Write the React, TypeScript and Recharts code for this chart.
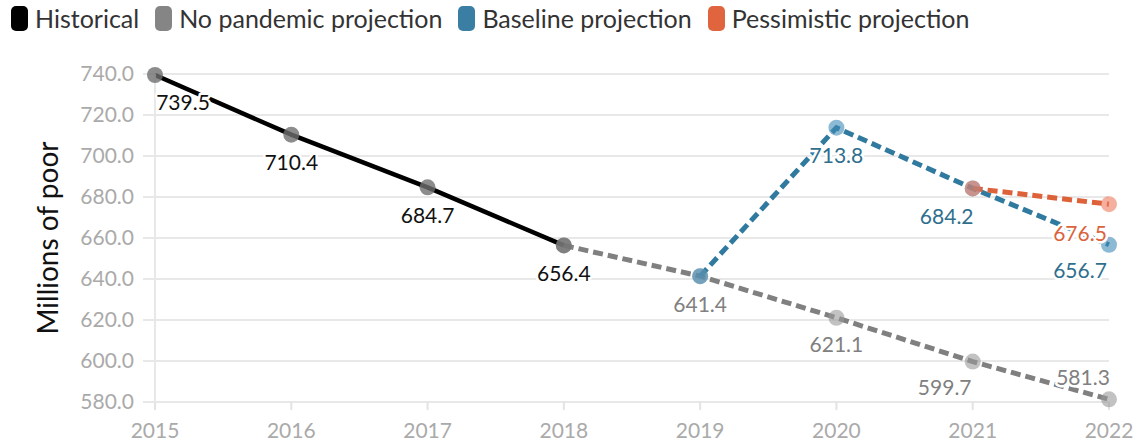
import React from 'react';
import { ComposedChart, Line, XAxis, YAxis, CartesianGrid, LabelList } from 'recharts';

const years = [2015, 2016, 2017, 2018, 2019, 2020, 2021, 2022];
const historical = [739.5, 710.4, 684.7, 656.4, null, null, null, null];
const noPandemic = [null, null, null, 656.4, 641.4, 621.1, 599.7, 581.3];
const baseline = [null, null, null, null, 641.4, 713.8, 684.2, 656.7];
const pessimistic = [null, null, null, null, null, null, 684.2, 676.5];
const yTicks = [580, 600, 620, 640, 660, 680, 700, 720, 740];

const data = years.map((year, i) => ({
  year,
  hist: historical[i],
  nopan: noPandemic[i],
  base: baseline[i],
  pess: pessimistic[i],
}));

const FONT = 'Lato, "Open Sans", sans-serif';

// label offsets (style), keyed by series then year; missing => no label
const labelOffsets: Record<string, Record<number, [number, number]>> = {
  hist: { 2015: [28, 26], 2016: [0, 27], 2017: [0, 27], 2018: [0, 27] },
  nopan: { 2019: [0, 27], 2020: [0, 26], 2021: [-28, 25], 2022: [-26, -23] },
  base: { 2020: [0, 27], 2021: [-26, 27], 2022: [-29, 25] },
  pess: { 2022: [-29, 28] },
};

const labelColors: Record<string, string> = {
  hist: '#111',
  nopan: '#808080',
  base: '#2f6f8e',
  pess: '#d9633d',
};

const makeLabel = (key: string) => (props: any) => {
  const { x, y, value, index } = props;
  if (value == null) return null;
  const yr = years[index];
  const off = labelOffsets[key][yr];
  if (!off) return null;
  return (
    <text
      x={x + off[0]}
      y={y + off[1]}
      textAnchor="middle"
      dominantBaseline="central"
      fontFamily={FONT}
      fontSize={21}
      fill={labelColors[key]}
      stroke="#fff"
      strokeWidth={5}
      paintOrder="stroke"
      strokeLinejoin="round"
    >
      {Number(value).toFixed(1)}
    </text>
  );
};

const makeDot = (fill: string, opacity: number) => (props: any) => {
  const { cx, cy, value, index } = props;
  if (value == null || cx == null || cy == null) return <g key={index} />;
  return <circle key={index} cx={cx} cy={cy} r={8} fill={fill} fillOpacity={opacity} />;
};

const legendItems = [
  { label: 'Historical', color: '#000' },
  { label: 'No pandemic projection', color: '#858585' },
  { label: 'Baseline projection', color: '#3a7fa3' },
  { label: 'Pessimistic projection', color: '#e0653f' },
];

export default function App() {
  return (
    <div style={{ position: 'absolute', left: 0, top: 0, width: 1140, height: 447, background: '#fff' }}>
      <div
        style={{
          position: 'absolute',
          left: 11,
          top: 6,
          display: 'flex',
          alignItems: 'center',
          fontFamily: FONT,
          fontSize: 25,
          color: '#333',
        }}
      >
        {legendItems.map((it) => (
          <div key={it.label} style={{ display: 'flex', alignItems: 'center', marginRight: 16 }}>
            <div style={{ width: 17, height: 25, borderRadius: 5, background: it.color, marginRight: 7 }} />
            <span style={{ lineHeight: '25px' }}>{it.label}</span>
          </div>
        ))}
      </div>
      <ComposedChart
        width={1140}
        height={447}
        data={data}
        margin={{ top: 74, right: 31, bottom: 0, left: 0 }}
      >
        <CartesianGrid vertical={false} stroke="#e8e8e8" strokeWidth={2} />
        <XAxis
          dataKey="year"
          type="number"
          domain={[2015, 2022]}
          ticks={years}
          height={45}
          axisLine={false}
          tickLine={{ stroke: '#e3e3e3', strokeWidth: 2 }}
          tickSize={8}
          tickMargin={13}
          tick={{ fill: '#aaa', fontSize: 21, fontFamily: FONT }}
        />
        <YAxis
          type="number"
          domain={[580, 740]}
          ticks={yTicks}
          width={155}
          axisLine={{ stroke: '#e8e8e8', strokeWidth: 2 }}
          tickLine={{ stroke: '#e8e8e8', strokeWidth: 2 }}
          tickSize={12}
          tickMargin={9}
          tick={{ fill: '#aaa', fontSize: 21, fontFamily: FONT }}
          tickFormatter={(v: number) => v.toFixed(1)}
          label={{
            value: 'Millions of poor',
            angle: -90,
            position: 'center',
            dx: -29,
            style: { fill: '#111', fontSize: 28, fontFamily: FONT },
          }}
        />
        <Line
          dataKey="nopan"
          stroke="#808080"
          strokeWidth={5}
          strokeDasharray="10 5"
          dot={makeDot('#9a9a9a', 0.6)}
          activeDot={false}
          isAnimationActive={false}
          connectNulls={false}
        >
          <LabelList dataKey="nopan" content={makeLabel('nopan')} />
        </Line>
        <Line
          dataKey="hist"
          stroke="#000"
          strokeWidth={4.5}
          dot={makeDot('#6f6f6f', 0.8)}
          activeDot={false}
          isAnimationActive={false}
          connectNulls={false}
        >
          <LabelList dataKey="hist" content={makeLabel('hist')} />
        </Line>
        <Line
          dataKey="base"
          stroke="#2f7a9e"
          strokeWidth={5}
          strokeDasharray="10 5"
          dot={makeDot('#3f8ab5', 0.6)}
          activeDot={false}
          isAnimationActive={false}
          connectNulls={false}
        >
          <LabelList dataKey="base" content={makeLabel('base')} />
        </Line>
        <Line
          dataKey="pess"
          stroke="#dd6139"
          strokeWidth={5}
          strokeDasharray="10 5"
          dot={makeDot('#ee7a5e', 0.6)}
          activeDot={false}
          isAnimationActive={false}
          connectNulls={false}
        >
          <LabelList dataKey="pess" content={makeLabel('pess')} />
        </Line>
      </ComposedChart>
    </div>
  );
}
